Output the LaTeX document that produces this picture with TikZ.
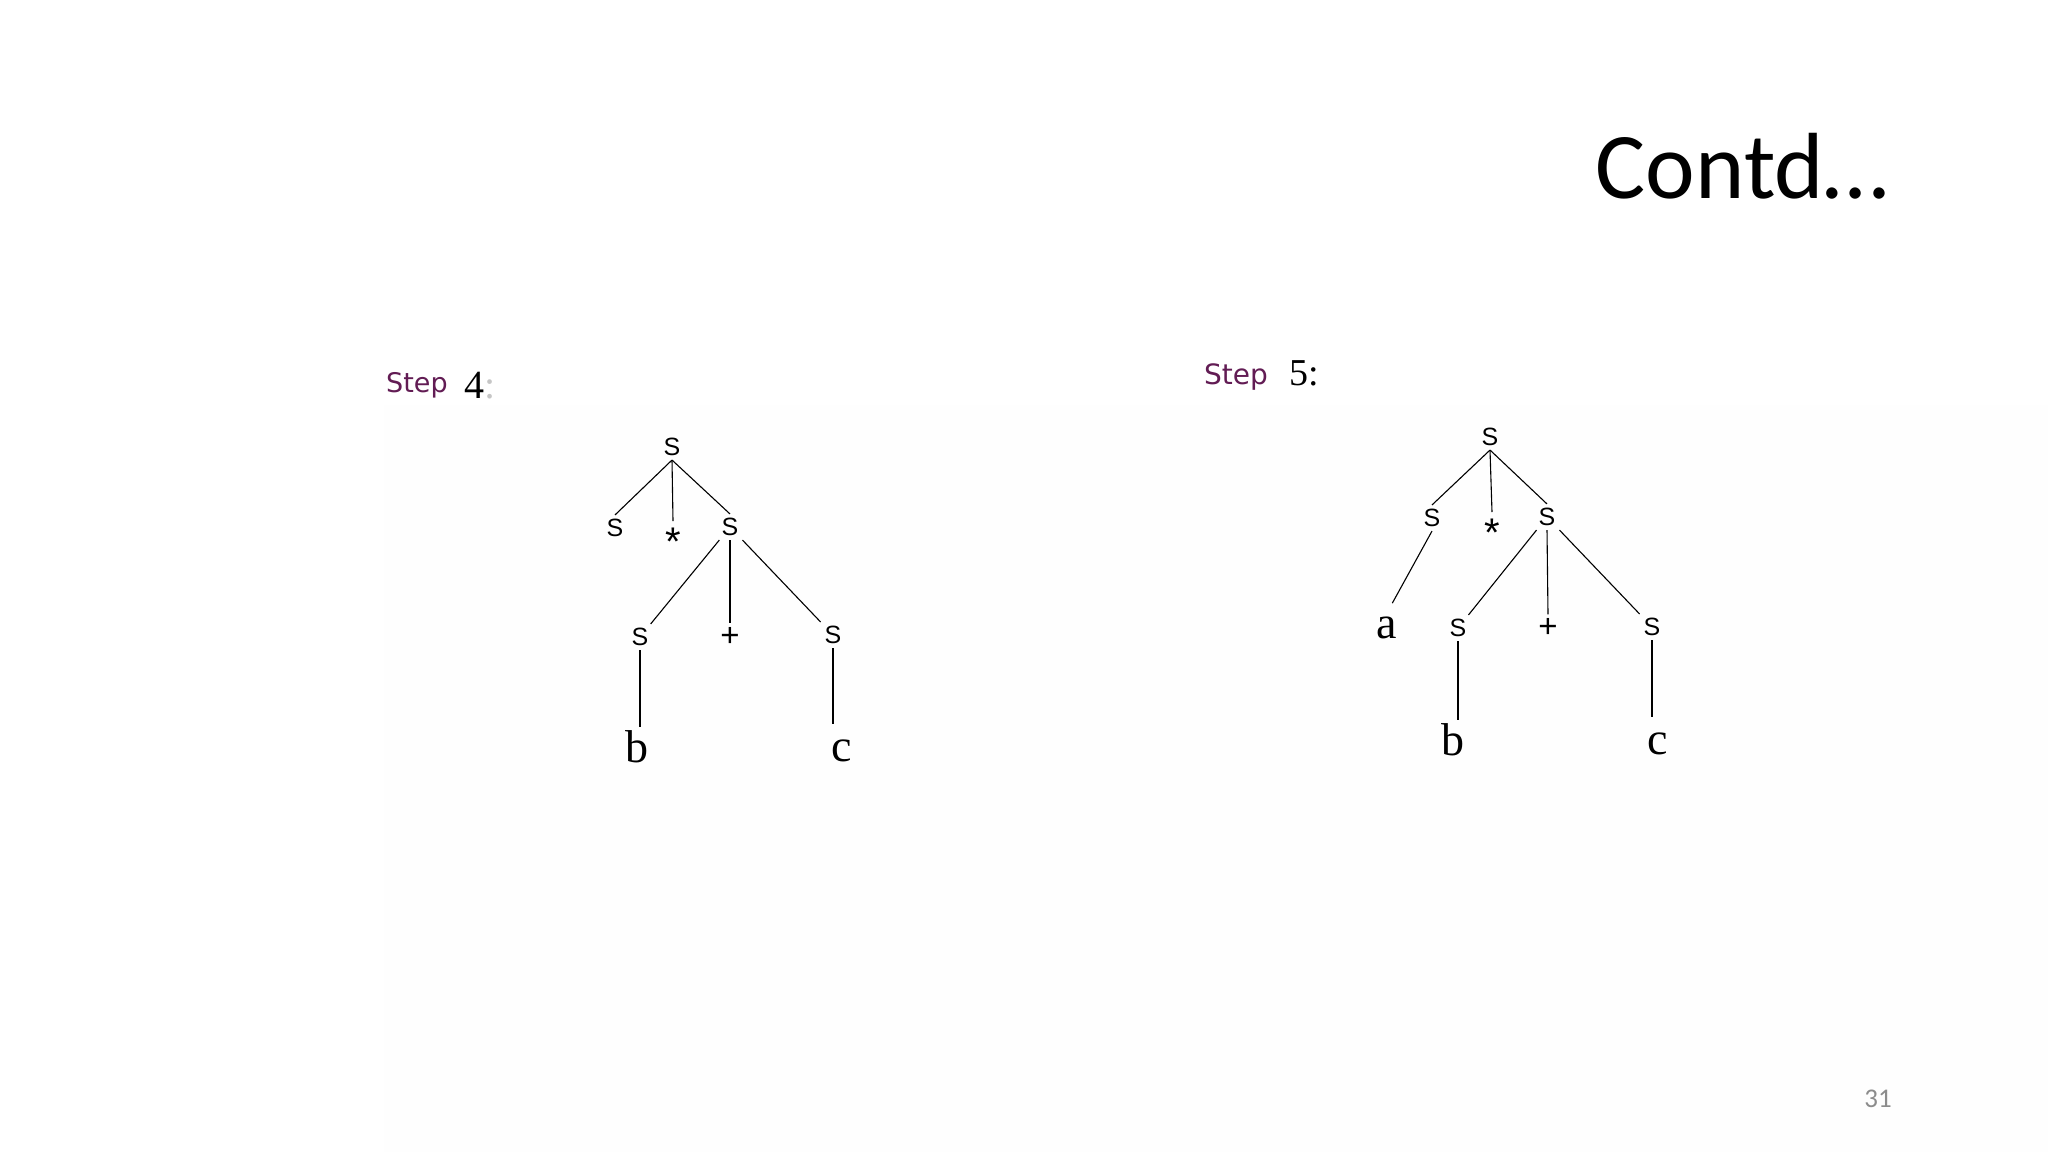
\documentclass[tikz,border=0pt]{standalone}
\usepackage{fontspec}
\setmainfont{Liberation Serif}
\newfontfamily\arialf{Liberation Sans}
\newfontfamily\stepf{DejaVu Sans}
\newfontfamily\calf{Carlito}
\definecolor{steppurple}{RGB}{98,28,84}
\definecolor{pagegray}{RGB}{140,140,140}
\definecolor{imgbg}{RGB}{254,254,254}
\tikzset{
  nt/.style={inner sep=4pt, font=\arialf\fontsize{25}{25}\selectfont},
  opsym/.style={inner sep=4pt, font=\arialf\fontsize{33}{33}\selectfont},
  starsym/.style={inner sep=5pt, font=\arialf\fontsize{40}{40}\selectfont},
  leaf/.style={inner sep=4pt, font=\fontsize{46}{46}\selectfont},
  edge/.style={draw=black, line width=1.1pt},
  steplbl/.style={inner sep=0pt, anchor=base west, text=steppurple},
}
\begin{document}
\begin{tikzpicture}[x=1pt,y=-1pt]
\useasboundingbox (0,0) rectangle (2048,1152);
\fill[white] (0,0) rectangle (2048,1152);
\fill[imgbg] (384,405) rectangle (2048,1152);

% title and page number
\node[inner sep=0pt, anchor=base east, font=\calf\fontsize{94}{94}\selectfont] (title) at (1889,198) {Contd…};
\node[inner sep=0pt, anchor=base east, text=pagegray, font=\calf\fontsize{27}{27}\selectfont] (pnum) at (1892,1107) {31};

% Step 4 label
\node[steplbl, font=\stepf\fontsize{27}{27}\selectfont] (step4) at (386,392) {Step};
\node[inner sep=0pt, anchor=base west, font=\fontsize{40}{40}\selectfont] (n4) at (464,398) {4\textcolor{gray!45}{:}};

% Step 5 label
\node[steplbl, font=\stepf\fontsize{28}{28}\selectfont] (step5) at (1204,384) {Step};
\node[inner sep=0pt, anchor=base west, font=\fontsize{38}{38}\selectfont] (n5) at (1289,385) {5:};

% ---------- Tree of step 4 ----------
\node[nt] (r4) at (672,447) {S};
\node[nt] (sl4) at (615,528) {S};
\node[starsym] (st4) at (673,532) {\raisebox{-0.43em}[0.29em][0pt]{*}};
\node[nt] (sr4) at (730,527) {S};
\node[nt] (sb4) at (640,637) {S};
\node[opsym] (pl4) at (730,637) {+};
\node[nt] (sc4) at (833,635) {S};
\node[leaf] (b4) at (637,747) {b};
\node[leaf] (c4) at (842,751) {c};

\draw[edge] (r4.south) -- (sl4.north);
\draw[edge] (r4.south) -- (st4.north);
\draw[edge] (r4.south) -- (sr4.north);
\draw[edge] (sr4) -- (sb4);
\draw[edge] (sr4.south) -- (pl4.north);
\draw[edge] (sr4) -- (sc4);
\draw[edge] (sb4.south) -- (sb4.south |- b4.north);
\draw[edge, shorten >=12pt] (sc4.south) -- (sc4.south |- c4.north);

% ---------- Tree of step 5 ----------
\node[nt] (r5) at (1490,437) {S};
\node[nt] (sl5) at (1432,518) {S};
\node[starsym] (st5) at (1492,523) {\raisebox{-0.43em}[0.29em][0pt]{*}};
\node[nt] (sr5) at (1547,517) {S};
\node[leaf] (a5) at (1387,628) {a};
\node[nt] (sb5) at (1458,628) {S};
\node[opsym] (pl5) at (1548,628) {+};
\node[nt] (sc5) at (1652,627) {S};
\node[leaf] (b5) at (1453,740) {b};
\node[leaf] (c5) at (1658,744) {c};

\draw[edge] (r5.south) -- (sl5.north);
\draw[edge] (r5.south) -- (st5.north);
\draw[edge] (r5.south) -- (sr5.north);
\draw[edge, shorten >=11pt] (sl5.south) -- (a5.north);
\draw[edge] (sr5) -- (sb5);
\draw[edge] (sr5.south) -- (pl5.north);
\draw[edge] (sr5) -- (sc5);
\draw[edge] (sb5.south) -- (sb5.south |- b5.north);
\draw[edge, shorten >=12pt] (sc5.south) -- (sc5.south |- c5.north);
\end{tikzpicture}
\end{document}
